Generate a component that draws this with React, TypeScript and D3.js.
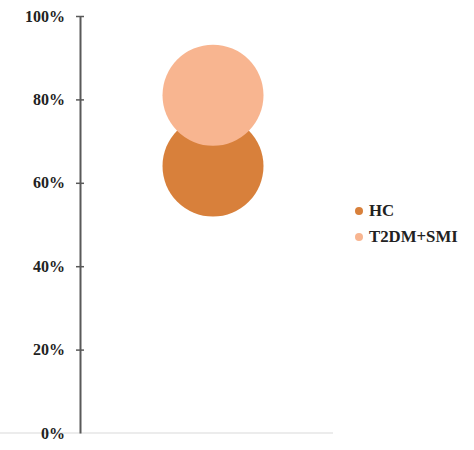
import React, { useEffect, useRef } from 'react';
import * as d3 from 'd3';

const groups = ['HC', 'T2DM+SMI'];
const xValues = [1, 1];
const yValues = [64, 81];
const sizes = [1, 1];
const colors = ['#D8803B', '#F8B590'];
const yTicks = [0, 20, 40, 60, 80, 100];

const App: React.FC = () => {
  const svgRef = useRef<SVGSVGElement>(null);
  const width = 474;
  const height = 450;

  useEffect(() => {
    if (!svgRef.current) return;
    const svg = d3.select(svgRef.current);
    svg.selectAll('*').remove();

    const margin = { top: 16, left: 80, bottom: 17, right: 128 };
    const font = '"Liberation Serif", "Times New Roman", serif';

    const x = d3.scaleLinear().domain([0, 2]).range([margin.left, 346]);
    const y = d3.scaleLinear().domain([0, 100]).range([height - margin.bottom, margin.top]);
    const r = d3.scaleSqrt().domain([0, 1]).range([0, 50.5]);

    // x axis line (light)
    svg.append('line')
      .attr('x1', 0).attr('x2', width - margin.right - 13)
      .attr('y1', y(0)).attr('y2', y(0))
      .attr('stroke', '#d9d9d9').attr('stroke-width', 1);

    // y axis
    const yAxis = d3.axisLeft(y)
      .tickValues(yTicks)
      .tickSize(0)
      .tickPadding(15)
      .tickFormat(d => `${d}%`);

    const gy = svg.append('g')
      .attr('transform', `translate(${margin.left},0)`)
      .call(yAxis);
    gy.select('.domain').attr('stroke', '#595959').attr('stroke-width', 2);
    gy.selectAll('.tick text')
      .attr('font-family', font)
      .attr('font-weight', 'bold')
      .attr('font-size', 16)
      .attr('fill', '#222');
    gy.selectAll('.tick')
      .filter((d: any) => d > 0)
      .append('line')
      .attr('x1', -4).attr('x2', 4)
      .attr('stroke', '#595959').attr('stroke-width', 1.5);

    // bubbles
    const data = groups.map((g, i) => ({ g, x: xValues[i], y: yValues[i], s: sizes[i], c: colors[i] }));
    svg.append('g').selectAll('circle')
      .data(data)
      .join('circle')
      .attr('cx', d => x(d.x))
      .attr('cy', d => y(d.y))
      .attr('r', d => r(d.s))
      .attr('fill', d => d.c);

    // legend
    const legend = svg.append('g').attr('transform', 'translate(359,211)');
    data.forEach((d, i) => {
      legend.append('circle').attr('cx', 0).attr('cy', i * 26).attr('r', 4).attr('fill', d.c);
      legend.append('text')
        .attr('x', 10).attr('y', i * 26 + 5)
        .attr('font-family', font)
        .attr('font-weight', 'bold')
        .attr('font-size', 16.8)
        .attr('fill', '#222')
        .text(d.g);
    });
  }, []);

  return (
    <svg
      ref={svgRef}
      width={width}
      height={height}
      style={{ position: 'absolute', left: 0, top: 0, background: '#fff' }}
    />
  );
};

export default App;
